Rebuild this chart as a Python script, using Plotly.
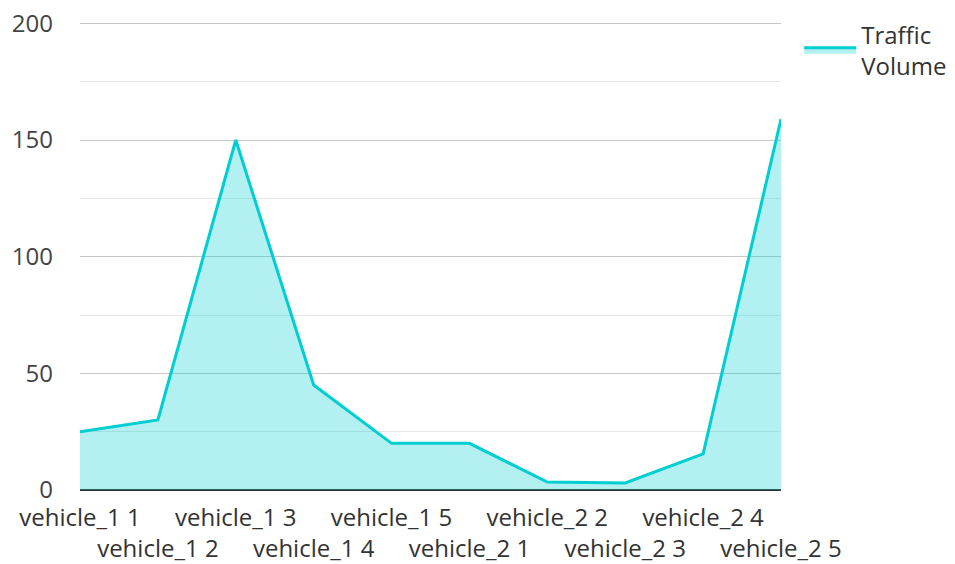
import plotly.graph_objects as go

categories = ["vehicle_1 1", "vehicle_1 2", "vehicle_1 3", "vehicle_1 4", "vehicle_1 5",
              "vehicle_2 1", "vehicle_2 2", "vehicle_2 3", "vehicle_2 4", "vehicle_2 5"]
traffic_volume = [25, 30, 150, 45, 20, 20, 3.4, 3, 15.5, 159]
series_name = "Traffic<br>Volume"
y_ticks = [0, 50, 100, 150, 200]

tick_text = [c if i % 2 == 0 else "<br>" + c for i, c in enumerate(categories)]

FONT = "Open Sans, Noto Sans, sans-serif"

fig = go.Figure()
fig.add_trace(go.Scatter(
    x=categories, y=traffic_volume, name=series_name,
    mode="lines", fill="tozeroy",
    line=dict(color="#00CED1", width=3),
    fillcolor="rgba(0,206,209,0.3)",
))

fig.update_layout(
    width=947, height=556,
    margin=dict(l=72, r=174, t=13, b=74, autoexpand=False),
    paper_bgcolor="white", plot_bgcolor="white",
    font=dict(family=FONT, size=24, color="#333333"),
    showlegend=True,
    legend=dict(x=1.026, y=1.019, xanchor="left", yanchor="top",
                itemwidth=52, font=dict(size=24, color="#333333"),
                bgcolor="rgba(0,0,0,0)"),
    xaxis=dict(type="category", range=[0, 9], tickmode="array",
               tickvals=categories, ticktext=tick_text, tickangle=0,
               automargin=False, ticklabelstandoff=11,
               ticklabeloverflow="allow",
               showgrid=False, zeroline=False, showline=False,
               tickfont=dict(size=24, color="#333333")),
    yaxis=dict(range=[0, 201], tickmode="array", tickvals=y_ticks,
               automargin=False, ticklabeloverflow="allow",
               showgrid=True, gridcolor="#c8c8c8", gridwidth=1,
               minor=dict(dtick=25, showgrid=True, gridcolor="#e6e6e6", gridwidth=1),
               zeroline=True, zerolinecolor="#333333", zerolinewidth=2,
               showline=False, ticklabelstandoff=26,
               tickfont=dict(size=24, color="#444444")),
)

fig.write_html("out.html")
